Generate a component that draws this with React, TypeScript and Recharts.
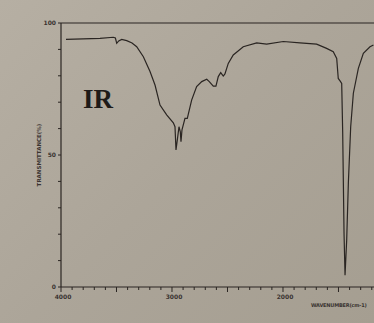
import React from 'react';
import { LineChart, Line, XAxis, YAxis, ReferenceLine, Label } from 'recharts';

// wavenumber (cm-1) and transmittance (%)
const wavenumbers = [
  3955, 3800, 3649, 3529, 3510, 3498, 3480, 3453, 3408, 3360, 3318, 3258, 3198, 3153,
  3108, 3048, 2988, 2973, 2964, 2952, 2937, 2925, 2919, 2910, 2883, 2862, 2823, 2778,
  2732, 2687, 2664, 2628, 2604, 2583, 2561, 2538, 2523, 2493, 2448, 2358, 2237, 2147,
  1997, 1847, 1697, 1607, 1547, 1516, 1502, 1486, 1471, 1462, 1450, 1441, 1426, 1411,
  1390, 1366, 1321, 1276, 1216, 1185,
];
const transmittance = [
  93.8, 94.0, 94.2, 94.6, 94.3, 92.3, 93.2, 93.8, 93.3, 92.4, 91.0, 87.2, 81.6, 76.5,
  68.9, 65.2, 62.2, 60.7, 51.9, 55.7, 60.7, 58.8, 55.0, 59.5, 63.9, 63.9, 70.8, 75.9,
  77.8, 78.7, 77.8, 76.1, 76.1, 79.7, 81.2, 79.9, 80.7, 84.7, 87.9, 91.0, 92.5, 92.0,
  93.0, 92.5, 92.0, 90.4, 89.1, 86.6, 79.0, 78.1, 77.1, 58.3, 20.4, 4.5, 17.8, 39.4,
  60.7, 73.4, 82.8, 88.5, 91.0, 91.7,
];

const xTicks = [4000, 3900, 3800, 3700, 3600, 3500, 3400, 3300, 3200, 3100, 3000, 2900, 2800, 2700,
  2600, 2500, 2400, 2300, 2200, 2100, 2000, 1900, 1800, 1700, 1600, 1500, 1400, 1300, 1200];
const xLabels = [4000, 3000, 2000];
const yTicks = [0, 10, 20, 30, 40, 50, 60, 70, 80, 90, 100];
const yLabels = [0, 50, 100];

const data = wavenumbers.map((w, i) => ({ w, t: transmittance[i] }));

const ink = '#2a2522';
const tickFont = '"DejaVu Sans", sans-serif';

const XTick = (props: any) => {
  const { x, y, payload } = props;
  const v = payload.value;
  const big = v % 500 === 0;
  return (
    <g>
      <line x1={x} x2={x} y1={y} y2={y + (big ? 5 : 3)} stroke={ink} strokeWidth={1} />
      {xLabels.includes(v) && (
        <text x={x + 2} y={y + 12} textAnchor="middle" fontSize={6} fontWeight="bold" fill="#3a3431" fontFamily={tickFont}>
          {v}
        </text>
      )}
    </g>
  );
};

const YTick = (props: any) => {
  const { x, y, payload } = props;
  const v = payload.value;
  return (
    <g>
      <line x1={x - 3} x2={x} y1={y} y2={y} stroke={ink} strokeWidth={1} />
      {yLabels.includes(v) && (
        <text x={x - 5} y={y + 2} textAnchor="end" fontSize={6} fontWeight="bold" fill="#3a3431" fontFamily={tickFont}>
          {v}
        </text>
      )}
    </g>
  );
};

export default function App() {
  return (
    <div
      style={{
        position: 'fixed',
        left: 0,
        top: 0,
        width: 374,
        height: 323,
        background: 'linear-gradient(135deg, #b6afa3 0%, #aca599 50%, #a59e91 100%)',
        overflow: 'hidden',
      }}
    >
      <LineChart width={374} height={323} data={data} margin={{ top: 23, right: 0, bottom: 6, left: 0 }}>
        <XAxis
          dataKey="w"
          type="number"
          domain={[1180, 4000]}
          reversed
          allowDataOverflow
          ticks={xTicks}
          interval={0}
          tick={<XTick />}
          tickSize={0}
          tickMargin={0}
          height={30}
          axisLine={{ stroke: ink, strokeWidth: 1.2 }}
        />
        <YAxis
          type="number"
          domain={[0, 100]}
          ticks={yTicks}
          interval={0}
          tick={<YTick />}
          tickSize={0}
          tickMargin={0}
          width={61}
          axisLine={{ stroke: ink, strokeWidth: 1.2 }}
          label={
            <Label
              content={() => (
                <text
                  x={41}
                  y={155}
                  transform="rotate(-90 41 155)"
                  textAnchor="middle"
                  fontSize={5.5}
                  fontWeight="bold"
                  fill="#3a3431"
                  fontFamily={tickFont}
                >
                  TRANSMITTANCE(%)
                </text>
              )}
            />
          }
        />
        <ReferenceLine y={100} stroke={ink} strokeWidth={1.2} ifOverflow="extendDomain" />
        <Line
          type="linear"
          dataKey="t"
          stroke={ink}
          strokeWidth={1.2}
          dot={false}
          isAnimationActive={false}
        />
      </LineChart>
      <div
        style={{
          position: 'absolute',
          left: 83,
          top: 86,
          fontFamily: '"Liberation Serif", serif',
          fontWeight: 'bold',
          fontSize: 27,
          color: '#1e1a18',
          lineHeight: 1,
        }}
      >
        IR
      </div>
      <div
        style={{
          position: 'absolute',
          left: 311,
          top: 302,
          fontFamily: tickFont,
          fontWeight: 'bold',
          fontSize: 5,
          letterSpacing: -0.2,
          color: '#3a3431',
          whiteSpace: 'nowrap',
        }}
      >
        WAVENUMBER(cm-1)
      </div>
    </div>
  );
}
